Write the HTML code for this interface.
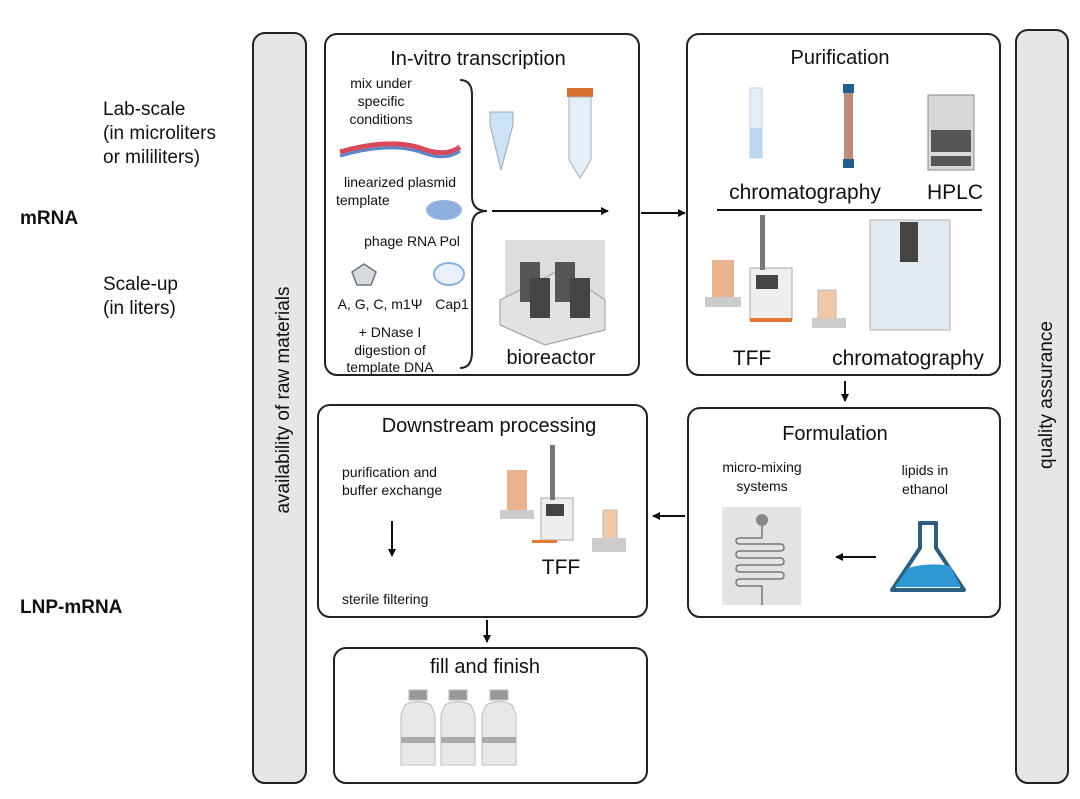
<!DOCTYPE html>
<html><head><meta charset="utf-8"><style>
html,body{margin:0;padding:0;background:#fff;width:1080px;height:799px;overflow:hidden}
svg{display:block}
text{font-family:"Liberation Sans",sans-serif;fill:#111}
</style></head><body>
<svg width="1080" height="799" viewBox="0 0 1080 799" xmlns="http://www.w3.org/2000/svg">
<defs><marker id="ah" markerWidth="8" markerHeight="8" refX="7" refY="4" orient="auto" markerUnits="userSpaceOnUse"><path d="M0,0 L8,4 L0,8 z" fill="#111"/></marker></defs>
<text x="103" y="115" font-size="19">Lab-scale</text>
<text x="103" y="139" font-size="19">(in microliters</text>
<text x="103" y="163" font-size="19">or mililiters)</text>
<text x="20" y="224" font-size="19" font-weight="bold">mRNA</text>
<text x="103" y="290" font-size="19">Scale-up</text>
<text x="103" y="314" font-size="19">(in liters)</text>
<text x="20" y="613" font-size="19" font-weight="bold">LNP-mRNA</text>
<rect x="253" y="33" width="53" height="750" rx="12" fill="#e6e6e6" stroke="#222" stroke-width="2"/>
<text transform="translate(289,400) rotate(-90)" text-anchor="middle" font-size="19">availability of raw materials</text>
<rect x="1016" y="30" width="52" height="753" rx="12" fill="#e6e6e6" stroke="#222" stroke-width="2"/>
<text transform="translate(1052,395) rotate(-90)" text-anchor="middle" font-size="19">quality assurance</text>
<rect x="325" y="34" width="314" height="341" rx="12" fill="#fff" stroke="#222" stroke-width="2"/>
<text x="478" y="65" text-anchor="middle" font-size="20">In-vitro transcription</text>
<g font-size="14" text-anchor="middle">
<text x="381" y="88">mix under</text><text x="381" y="106">specific</text><text x="381" y="124">conditions</text>
<text x="400" y="187">linearized plasmid</text><text x="336" y="205" text-anchor="start">template</text>
<text x="412" y="246">phage RNA Pol</text>
<text x="380" y="309">A, G, C, m1Ψ</text><text x="452" y="309">Cap1</text>
<text x="390" y="337">+ DNase I</text><text x="390" y="355">digestion of</text><text x="390" y="372">template DNA</text>
</g>
<path d="M340,152 Q390,138 420,148 Q445,158 460,147" stroke="#d9495a" stroke-width="5" fill="none"/>
<path d="M340,156 Q390,142 420,152 Q445,162 460,151" stroke="#5b86c7" stroke-width="3" fill="none"/>
<ellipse cx="444" cy="210" rx="18" ry="10" fill="#8fb0de"/>
<polygon points="364,264 376,272 371,285 357,285 352,272" fill="#d7dbe0" stroke="#6a7480" stroke-width="1.5"/>
<ellipse cx="449" cy="274" rx="15" ry="11" fill="#e8f0fb" stroke="#8fb0de" stroke-width="2"/>
<path d="M460,80 Q472,80 472,95 L472,196 Q472,211 487,211 Q472,211 472,226 L472,352 Q472,368 460,368" fill="none" stroke="#222" stroke-width="2"/>
<line x1="492" y1="211" x2="608" y2="211" stroke="#111" stroke-width="2" marker-end="url(#ah)"/>
<path d="M490,112 L513,112 L513,125 L501,170 L490,125 z" fill="#cde3f5" stroke="#9ab" stroke-width="1"/>
<rect x="567" y="88" width="26" height="9" fill="#d3712f"/>
<path d="M569,97 L591,97 L591,160 L580,178 L569,160 z" fill="#e4eef8" stroke="#aab" stroke-width="1"/>
<rect x="505" y="240" width="100" height="80" fill="#bbb" opacity=".5"/>
<path d="M500,300 L560,270 L605,300 L605,330 L545,345 L500,325 z" fill="#e2e2e2" stroke="#999"/>
<rect x="520" y="262" width="20" height="40" fill="#555"/><rect x="555" y="262" width="20" height="40" fill="#555"/>
<rect x="530" y="278" width="20" height="40" fill="#444"/><rect x="570" y="278" width="20" height="40" fill="#444"/>
<text x="551" y="364" text-anchor="middle" font-size="20">bioreactor</text>
<line x1="641" y1="213" x2="685" y2="213" stroke="#111" stroke-width="2" marker-end="url(#ah)"/>
<rect x="687" y="34" width="313" height="341" rx="12" fill="#fff" stroke="#222" stroke-width="2"/>
<text x="840" y="64" text-anchor="middle" font-size="20">Purification</text>
<rect x="750" y="88" width="12" height="70" fill="#e2eef8" stroke="#ccd" /><rect x="750" y="128" width="12" height="30" fill="#bcd8f0"/>
<rect x="844" y="86" width="9" height="80" fill="#c08a78"/><rect x="843" y="84" width="11" height="9" fill="#1f5f8b"/><rect x="843" y="159" width="11" height="9" fill="#1f5f8b"/>
<rect x="928" y="95" width="46" height="75" fill="#d8d8d8" stroke="#888"/><rect x="931" y="130" width="40" height="22" fill="#555"/><rect x="931" y="156" width="40" height="10" fill="#555"/>
<text x="805" y="199" text-anchor="middle" font-size="21">chromatography</text>
<text x="955" y="199" text-anchor="middle" font-size="21">HPLC</text>
<line x1="717" y1="210" x2="982" y2="210" stroke="#111" stroke-width="2"/>
<rect x="712" y="260" width="22" height="38" fill="#e3a072" opacity=".8"/><rect x="705" y="297" width="36" height="10" fill="#ccc"/>
<rect x="750" y="268" width="42" height="52" fill="#eee" stroke="#aaa"/><rect x="756" y="275" width="22" height="14" fill="#444"/><rect x="750" y="318" width="42" height="4" fill="#e07a30"/>
<rect x="760" y="215" width="5" height="55" fill="#777"/>
<rect x="818" y="290" width="18" height="30" fill="#f0c8a8" stroke="#bbb"/><rect x="812" y="318" width="34" height="10" fill="#ccc"/>
<rect x="870" y="220" width="80" height="110" fill="#dde6ee" stroke="#999" opacity=".8"/><rect x="900" y="222" width="18" height="40" fill="#444"/>
<text x="752" y="365" text-anchor="middle" font-size="21">TFF</text>
<text x="908" y="365" text-anchor="middle" font-size="21">chromatography</text>
<line x1="845" y1="381" x2="845" y2="401" stroke="#111" stroke-width="2" marker-end="url(#ah)"/>
<rect x="688" y="408" width="312" height="209" rx="12" fill="#fff" stroke="#222" stroke-width="2"/>
<text x="835" y="440" text-anchor="middle" font-size="20">Formulation</text>
<text x="762" y="472" text-anchor="middle" font-size="14">micro-mixing</text>
<text x="762" y="491" text-anchor="middle" font-size="14">systems</text>
<text x="925" y="475" text-anchor="middle" font-size="14">lipids in</text>
<text x="925" y="494" text-anchor="middle" font-size="14">ethanol</text>
<rect x="722" y="507" width="79" height="98" fill="#e3e3e3"/>
<circle cx="762" cy="520" r="6" fill="#888"/>
<path d="M762,526 L762,538 L740,538 Q736,538 736,541 Q736,544 740,544 L780,544 Q784,544 784,547.5 Q784,551 780,551 L740,551 Q736,551 736,554.5 Q736,558 740,558 L780,558 Q784,558 784,561.5 Q784,565 780,565 L740,565 Q736,565 736,568.5 Q736,572 740,572 L780,572 Q784,572 784,575.5 Q784,579 780,579 L740,579 Q736,579 736,582.5 Q736,586 740,586 L762,586 L762,605" fill="none" stroke="#777" stroke-width="1.5"/>
<line x1="876" y1="557" x2="836" y2="557" stroke="#111" stroke-width="2" marker-end="url(#ah)"/>
<path d="M920,523 L936,523 L936,548 L964,590 L892,590 L920,548 z" fill="#fff" stroke="#2a5f80" stroke-width="4" stroke-linejoin="round"/>
<path d="M908,568 Q930,562 950,566 L961,587 L895,587 z" fill="#2f97d2"/>
<line x1="685" y1="516" x2="653" y2="516" stroke="#111" stroke-width="2" marker-end="url(#ah)"/>
<rect x="318" y="405" width="329" height="212" rx="12" fill="#fff" stroke="#222" stroke-width="2"/>
<text x="489" y="432" text-anchor="middle" font-size="20">Downstream processing</text>
<text x="342" y="477" font-size="14">purification and</text>
<text x="342" y="495" font-size="14">buffer exchange</text>
<line x1="392" y1="521" x2="392" y2="556" stroke="#111" stroke-width="2" marker-end="url(#ah)"/>
<text x="342" y="604" font-size="14">sterile filtering</text>
<rect x="507" y="470" width="20" height="40" fill="#e3a072" opacity=".8"/><rect x="500" y="510" width="34" height="9" fill="#ccc"/>
<rect x="541" y="498" width="32" height="42" fill="#eee" stroke="#aaa"/><rect x="546" y="504" width="18" height="12" fill="#444"/>
<rect x="550" y="445" width="5" height="55" fill="#777"/>
<rect x="532" y="540" width="25" height="3" fill="#e07a30"/>
<rect x="603" y="510" width="14" height="30" fill="#f0c8a8" stroke="#bbb"/><rect x="592" y="538" width="34" height="14" fill="#ccc"/>
<text x="561" y="574" text-anchor="middle" font-size="21">TFF</text>
<line x1="487" y1="620" x2="487" y2="642" stroke="#111" stroke-width="2" marker-end="url(#ah)"/>
<rect x="334" y="648" width="313" height="135" rx="12" fill="#fff" stroke="#222" stroke-width="2"/>
<text x="485" y="673" text-anchor="middle" font-size="20">fill and finish</text>
<g fill="#e8e8e8" stroke="#bbb">
<rect x="409" y="690" width="18" height="10" fill="#999"/><path d="M405,705 Q418,698 431,705 L435,715 L435,765 L401,765 L401,715 z"/><rect x="401" y="737" width="34" height="6" fill="#aaa" stroke="none"/>
<rect x="449" y="690" width="18" height="10" fill="#999"/><path d="M445,705 Q458,698 471,705 L475,715 L475,765 L441,765 L441,715 z"/><rect x="441" y="737" width="34" height="6" fill="#aaa" stroke="none"/>
<rect x="490" y="690" width="18" height="10" fill="#999"/><path d="M486,705 Q499,698 512,705 L516,715 L516,765 L482,765 L482,715 z"/><rect x="482" y="737" width="34" height="6" fill="#aaa" stroke="none"/>
</g>
</svg>
</body></html>
